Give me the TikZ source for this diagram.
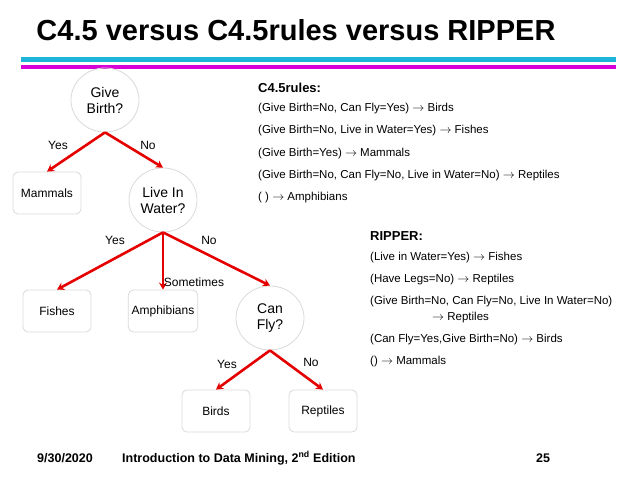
\documentclass[tikz,border=0pt]{standalone}
\usepackage{fontspec}
\setmainfont{Liberation Sans}
\usetikzlibrary{shapes.geometric,arrows.meta}
\definecolor{barcyan}{RGB}{30,180,215}
\definecolor{barmag}{RGB}{215,0,215}
\begin{document}
\begin{tikzpicture}[x=1pt,y=-1pt,
  oval/.style={draw=black!15,line width=0.8pt,ellipse,minimum width=68pt,minimum height=64pt,inner sep=0pt,align=center,font=\fontsize{14}{16}\selectfont},
  leaf/.style={draw=black!15,line width=0.8pt,rounded corners=5pt,minimum width=68pt,minimum height=42pt,font=\fontsize{12}{14}\selectfont},
  edge/.style={draw=red!90!black,line width=2.6pt,-{Stealth[length=7pt,width=8pt]}},
  lbl/.style={font=\fontsize{12}{14}\selectfont},
  rule/.style={anchor=west,font=\fontsize{11.5}{13}\selectfont,inner sep=0pt}]
\useasboundingbox (0,0) rectangle (638,478);
\node[font=\bfseries\fontsize{29}{32}\selectfont] (title) at (296,30) {C4.5 versus C4.5rules versus RIPPER};
\fill[barcyan] (21,57) rectangle (616,62);
\fill[barmag] (21,65) rectangle (616,69);
\node[oval] (gb) at (105,100) {Give\\Birth?};
\node[leaf] (mam) at (47,193) {Mammals};
\node[oval] (lw) at (163,200) {Live In\\Water?};
\node[leaf] (fish) at (57,311) {Fishes};
\node[leaf] (amph) at (163,311) {Amphibians};
\node[oval] (cf) at (270,318) {Can\\Fly?};
\node[leaf] (birds) at (216,411) {Birds};
\node[leaf] (rept) at (323,411) {Reptiles};
\draw[edge] (gb.south) -- (mam.north);
\draw[edge] (gb.south) -- (lw.north);
\draw[edge] (lw.south) -- (fish.north);
\draw[edge] (lw.south) -- (amph.north);
\draw[edge] (lw.south) -- (cf.north);
\draw[edge] (cf.south) -- (birds.north);
\draw[edge] (cf.south) -- (rept.north);
\node[lbl] (l1) at (58,145) {Yes};
\node[lbl] (l2) at (148,145) {No};
\node[lbl] (l3) at (115,240) {Yes};
\node[lbl] (l4) at (209,240) {No};
\node[lbl] (l5) at (194,282) {Sometimes};
\node[lbl] (l6) at (227,364) {Yes};
\node[lbl] (l7) at (311,362) {No};
\node[rule,font=\bfseries\fontsize{13}{15}\selectfont] (c45) at (258,88) {C4.5rules:};
\node[rule] (r1) at (258,109) {(Give Birth=No, Can Fly=Yes) $\rightarrow$ Birds};
\node[rule] (r2) at (258,131) {(Give Birth=No, Live in Water=Yes) $\rightarrow$ Fishes};
\node[rule] (r3) at (258,154) {(Give Birth=Yes) $\rightarrow$ Mammals};
\node[rule] (r4) at (258,176) {(Give Birth=No, Can Fly=No, Live in Water=No) $\rightarrow$ Reptiles};
\node[rule] (r5) at (258,198) {( ) $\rightarrow$ Amphibians};
\node[rule,font=\bfseries\fontsize{13}{15}\selectfont] (rip) at (370,236) {RIPPER:};
\node[rule] (s1) at (370,258) {(Live in Water=Yes) $\rightarrow$ Fishes};
\node[rule] (s2) at (370,280) {(Have Legs=No) $\rightarrow$ Reptiles};
\node[rule] (s3) at (370,302) {(Give Birth=No, Can Fly=No, Live In Water=No)};
\node[rule] (s3b) at (432,318) {$\rightarrow$ Reptiles};
\node[rule] (s4) at (370,340) {(Can Fly=Yes,Give Birth=No) $\rightarrow$ Birds};
\node[rule] (s5) at (370,362) {() $\rightarrow$ Mammals};
\node[rule,font=\bfseries\fontsize{12.5}{14}\selectfont] (f1) at (37,458) {9/30/2020};
\node[rule,font=\bfseries\fontsize{12.5}{14}\selectfont] (f2) at (122,458) {Introduction to Data Mining, 2\textsuperscript{nd} Edition};
\node[rule,font=\bfseries\fontsize{12.5}{14}\selectfont] (f3) at (536,458) {25};
\end{tikzpicture}
\end{document}
